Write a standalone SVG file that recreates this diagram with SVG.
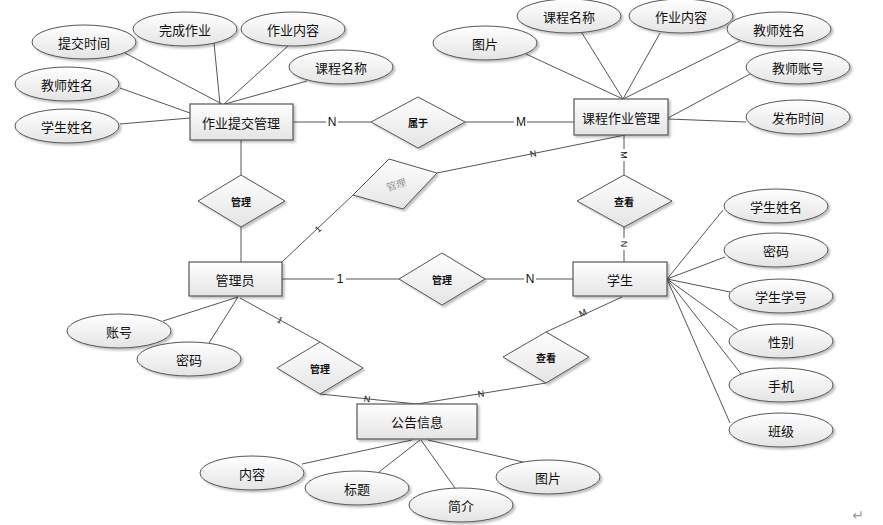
<svg xmlns="http://www.w3.org/2000/svg" width="883" height="525" viewBox="0 0 883 525">
<defs>
<linearGradient id="g" x1="0" y1="0" x2="0" y2="1">
<stop offset="0" stop-color="#ffffff"/>
<stop offset="1" stop-color="#e4e4e4"/>
</linearGradient>
<filter id="sh" x="-10%" y="-10%" width="130%" height="140%">
<feDropShadow dx="2" dy="2" stdDeviation="1" flood-color="#000" flood-opacity="0.25"/>
</filter>
</defs>
<style>
.ent rect{fill:url(#g);stroke:#555;stroke-width:1.2;filter:url(#sh)}
.att ellipse{fill:url(#g);stroke:#555;stroke-width:1;filter:url(#sh)}
.rel polygon{fill:url(#g);stroke:#555;stroke-width:1;filter:url(#sh)}
text{font-family:"Noto Sans CJK SC","Noto Sans",sans-serif;fill:#111;text-anchor:middle;dominant-baseline:central}
.t13{font-size:13px}
.t10{font-size:10px;font-weight:bold}
.lbl{font-family:"Liberation Sans",Arial,sans-serif;font-size:12px}
.lbs{font-family:"Liberation Sans",Arial,sans-serif;font-size:9px}
#connectors line{stroke:#555;stroke-width:1}
.bg{fill:#fff}
</style>
<rect width="883" height="525" fill="#fff"/>
<g id="connectors">
<line x1="125" y1="53" x2="222" y2="104"/>
<line x1="214" y1="43" x2="220" y2="104"/>
<line x1="288" y1="46" x2="224" y2="104"/>
<line x1="307" y1="81" x2="225" y2="104"/>
<line x1="120" y1="88" x2="190" y2="113"/>
<line x1="120" y1="124" x2="190" y2="118"/>
<line x1="526" y1="54" x2="623" y2="99"/>
<line x1="582" y1="33" x2="623" y2="99"/>
<line x1="660" y1="33" x2="623" y2="99"/>
<line x1="740" y1="41" x2="623" y2="99"/>
<line x1="750" y1="74" x2="668" y2="118"/>
<line x1="746" y1="122" x2="668" y2="119"/>
<line x1="293" y1="122" x2="371" y2="122"/>
<line x1="465" y1="122" x2="574" y2="122"/>
<line x1="241" y1="140" x2="241" y2="175"/>
<line x1="241" y1="227" x2="241" y2="262"/>
<line x1="282" y1="262" x2="353" y2="195"/>
<line x1="437" y1="173" x2="625" y2="135"/>
<line x1="624" y1="135" x2="624" y2="175"/>
<line x1="624" y1="227" x2="624" y2="262"/>
<line x1="282" y1="279" x2="399" y2="279"/>
<line x1="485" y1="279" x2="573" y2="279"/>
<line x1="240" y1="298" x2="320" y2="342"/>
<line x1="320" y1="394" x2="417" y2="404"/>
<line x1="546" y1="332" x2="622" y2="297"/>
<line x1="546" y1="383" x2="417" y2="404"/>
<line x1="163" y1="321" x2="238" y2="297"/>
<line x1="209" y1="343" x2="238" y2="297"/>
<line x1="667" y1="279" x2="723" y2="210"/>
<line x1="667" y1="279" x2="725" y2="257"/>
<line x1="667" y1="279" x2="730" y2="292"/>
<line x1="667" y1="279" x2="738" y2="330"/>
<line x1="667" y1="279" x2="742" y2="375"/>
<line x1="667" y1="279" x2="730" y2="423"/>
<line x1="302" y1="464" x2="412" y2="440"/>
<line x1="379" y1="472" x2="420" y2="440"/>
<line x1="455" y1="488" x2="421" y2="440"/>
<line x1="523" y1="462" x2="428" y2="440"/>
<rect class="bg" x="326" y="115" width="12" height="14"/>
<text class="lbl" x="332" y="122">N</text>
<rect class="bg" x="514" y="115" width="13" height="14"/>
<text class="lbl" x="521" y="122">M</text>
<rect class="bg" x="334" y="272" width="12" height="14"/>
<text class="lbl" x="340" y="279">1</text>
<rect class="bg" x="524" y="272" width="12" height="14"/>
<text class="lbl" x="530" y="279">N</text>
<text class="lbs" x="318" y="229" transform="rotate(-43 318 229)">1</text>
<text class="lbs" x="533" y="154" transform="rotate(-11 533 154)">N</text>
<rect class="bg" x="619" y="149" width="10" height="12"/>
<text class="lbs" x="624" y="155" transform="rotate(90 624 155)">M</text>
<rect class="bg" x="619" y="238" width="10" height="12"/>
<text class="lbs" x="624" y="244" transform="rotate(90 624 244)">N</text>
<text class="lbs" x="280" y="320" transform="rotate(29 280 320)">1</text>
<text class="lbs" x="367" y="399" transform="rotate(6 367 399)">N</text>
<text class="lbs" x="583" y="313" transform="rotate(-25 583 313)">M</text>
<text class="lbs" x="481" y="394" transform="rotate(-9 481 394)">N</text>
</g>
<g id="e-zuoye" class="ent"><rect x="190" y="104" width="103" height="36"/><text class="t13" x="241" y="122">作业提交管理</text></g>
<g id="e-kecheng" class="ent"><rect x="574" y="99" width="94" height="36"/><text class="t13" x="621" y="117">课程作业管理</text></g>
<g id="e-admin" class="ent"><rect x="189" y="262" width="93" height="34"/><text class="t13" x="235" y="279">管理员</text></g>
<g id="e-student" class="ent"><rect x="573" y="262" width="94" height="34"/><text class="t13" x="620" y="279">学生</text></g>
<g id="e-notice" class="ent"><rect x="357" y="404" width="120" height="35"/><text class="t13" x="417" y="421">公告信息</text></g>
<g id="r-shuyu" class="rel"><polygon points="371,122 418,97 465,122 418,148"/><text class="t10" x="418" y="122">属于</text></g>
<g id="r-guanli1" class="rel"><polygon points="198,201 241,175 285,201 241,227"/><text class="t10" x="241" y="201">管理</text></g>
<g id="r-guanli2" class="rel"><polygon points="353,195 389,159 437,173 403,209"/><text x="396" y="184" transform="rotate(-17 396 184)" style="font-family:'Noto Serif CJK SC','Noto Sans CJK SC',serif;font-size:10px;fill:#777">管理</text></g>
<g id="r-chakan1" class="rel"><polygon points="577,201 624,175 672,201 624,227"/><text class="t10" x="624" y="201">查看</text></g>
<g id="r-guanli3" class="rel"><polygon points="399,279 442,253 485,279 442,305"/><text class="t10" x="442" y="279">管理</text></g>
<g id="r-guanli4" class="rel"><polygon points="277,368 320,342 363,368 320,394"/><text class="t10" x="320" y="368">管理</text></g>
<g id="r-chakan2" class="rel"><polygon points="503,357 546,332 589,357 546,383"/><text class="t10" x="546" y="357">查看</text></g>
<g id="a-tjsj" class="att"><ellipse cx="84" cy="42" rx="52" ry="17"/><text class="t13" x="84" y="42">提交时间</text></g>
<g id="a-wczy" class="att"><ellipse cx="185" cy="29" rx="52" ry="17"/><text class="t13" x="185" y="29">完成作业</text></g>
<g id="a-zynr1" class="att"><ellipse cx="293" cy="29" rx="52" ry="17"/><text class="t13" x="293" y="29">作业内容</text></g>
<g id="a-kcmc1" class="att"><ellipse cx="341" cy="67" rx="52" ry="17"/><text class="t13" x="341" y="67">课程名称</text></g>
<g id="a-jsxm1" class="att"><ellipse cx="67" cy="84" rx="52" ry="17"/><text class="t13" x="67" y="84">教师姓名</text></g>
<g id="a-xsxm1" class="att"><ellipse cx="67" cy="126" rx="52" ry="17"/><text class="t13" x="67" y="126">学生姓名</text></g>
<g id="a-tp1" class="att"><ellipse cx="485" cy="43" rx="52" ry="17"/><text class="t13" x="485" y="43">图片</text></g>
<g id="a-kcmc2" class="att"><ellipse cx="569" cy="16" rx="52" ry="17"/><text class="t13" x="569" y="16">课程名称</text></g>
<g id="a-zynr2" class="att"><ellipse cx="681" cy="16" rx="52" ry="17"/><text class="t13" x="681" y="16">作业内容</text></g>
<g id="a-jsxm2" class="att"><ellipse cx="779" cy="29" rx="52" ry="17"/><text class="t13" x="779" y="29">教师姓名</text></g>
<g id="a-jszh" class="att"><ellipse cx="798" cy="67" rx="52" ry="17"/><text class="t13" x="798" y="67">教师账号</text></g>
<g id="a-fbsj" class="att"><ellipse cx="798" cy="117" rx="52" ry="17"/><text class="t13" x="798" y="117">发布时间</text></g>
<g id="a-xsxm2" class="att"><ellipse cx="776" cy="206" rx="52" ry="17"/><text class="t13" x="776" y="206">学生姓名</text></g>
<g id="a-mm2" class="att"><ellipse cx="776" cy="250" rx="52" ry="17"/><text class="t13" x="776" y="250">密码</text></g>
<g id="a-xsxh" class="att"><ellipse cx="781" cy="296" rx="52" ry="17"/><text class="t13" x="781" y="296">学生学号</text></g>
<g id="a-xb" class="att"><ellipse cx="781" cy="341" rx="52" ry="17"/><text class="t13" x="781" y="341">性别</text></g>
<g id="a-sj" class="att"><ellipse cx="781" cy="385" rx="52" ry="17"/><text class="t13" x="781" y="385">手机</text></g>
<g id="a-bj" class="att"><ellipse cx="781" cy="430" rx="52" ry="17"/><text class="t13" x="781" y="430">班级</text></g>
<g id="a-zh" class="att"><ellipse cx="119" cy="331" rx="52" ry="17"/><text class="t13" x="119" y="331">账号</text></g>
<g id="a-mm1" class="att"><ellipse cx="189" cy="359" rx="52" ry="17"/><text class="t13" x="189" y="359">密码</text></g>
<g id="a-nr" class="att"><ellipse cx="252" cy="473" rx="52" ry="17"/><text class="t13" x="252" y="473">内容</text></g>
<g id="a-bt" class="att"><ellipse cx="357" cy="488" rx="52" ry="17"/><text class="t13" x="357" y="488">标题</text></g>
<g id="a-jj" class="att"><ellipse cx="461" cy="505" rx="52" ry="17"/><text class="t13" x="461" y="505">简介</text></g>
<g id="a-tp2" class="att"><ellipse cx="548" cy="477" rx="52" ry="17"/><text class="t13" x="548" y="477">图片</text></g>
<text x="858" y="515" style="font-family:'DejaVu Sans',sans-serif;font-size:14px;fill:#999">↵</text>
</svg>
